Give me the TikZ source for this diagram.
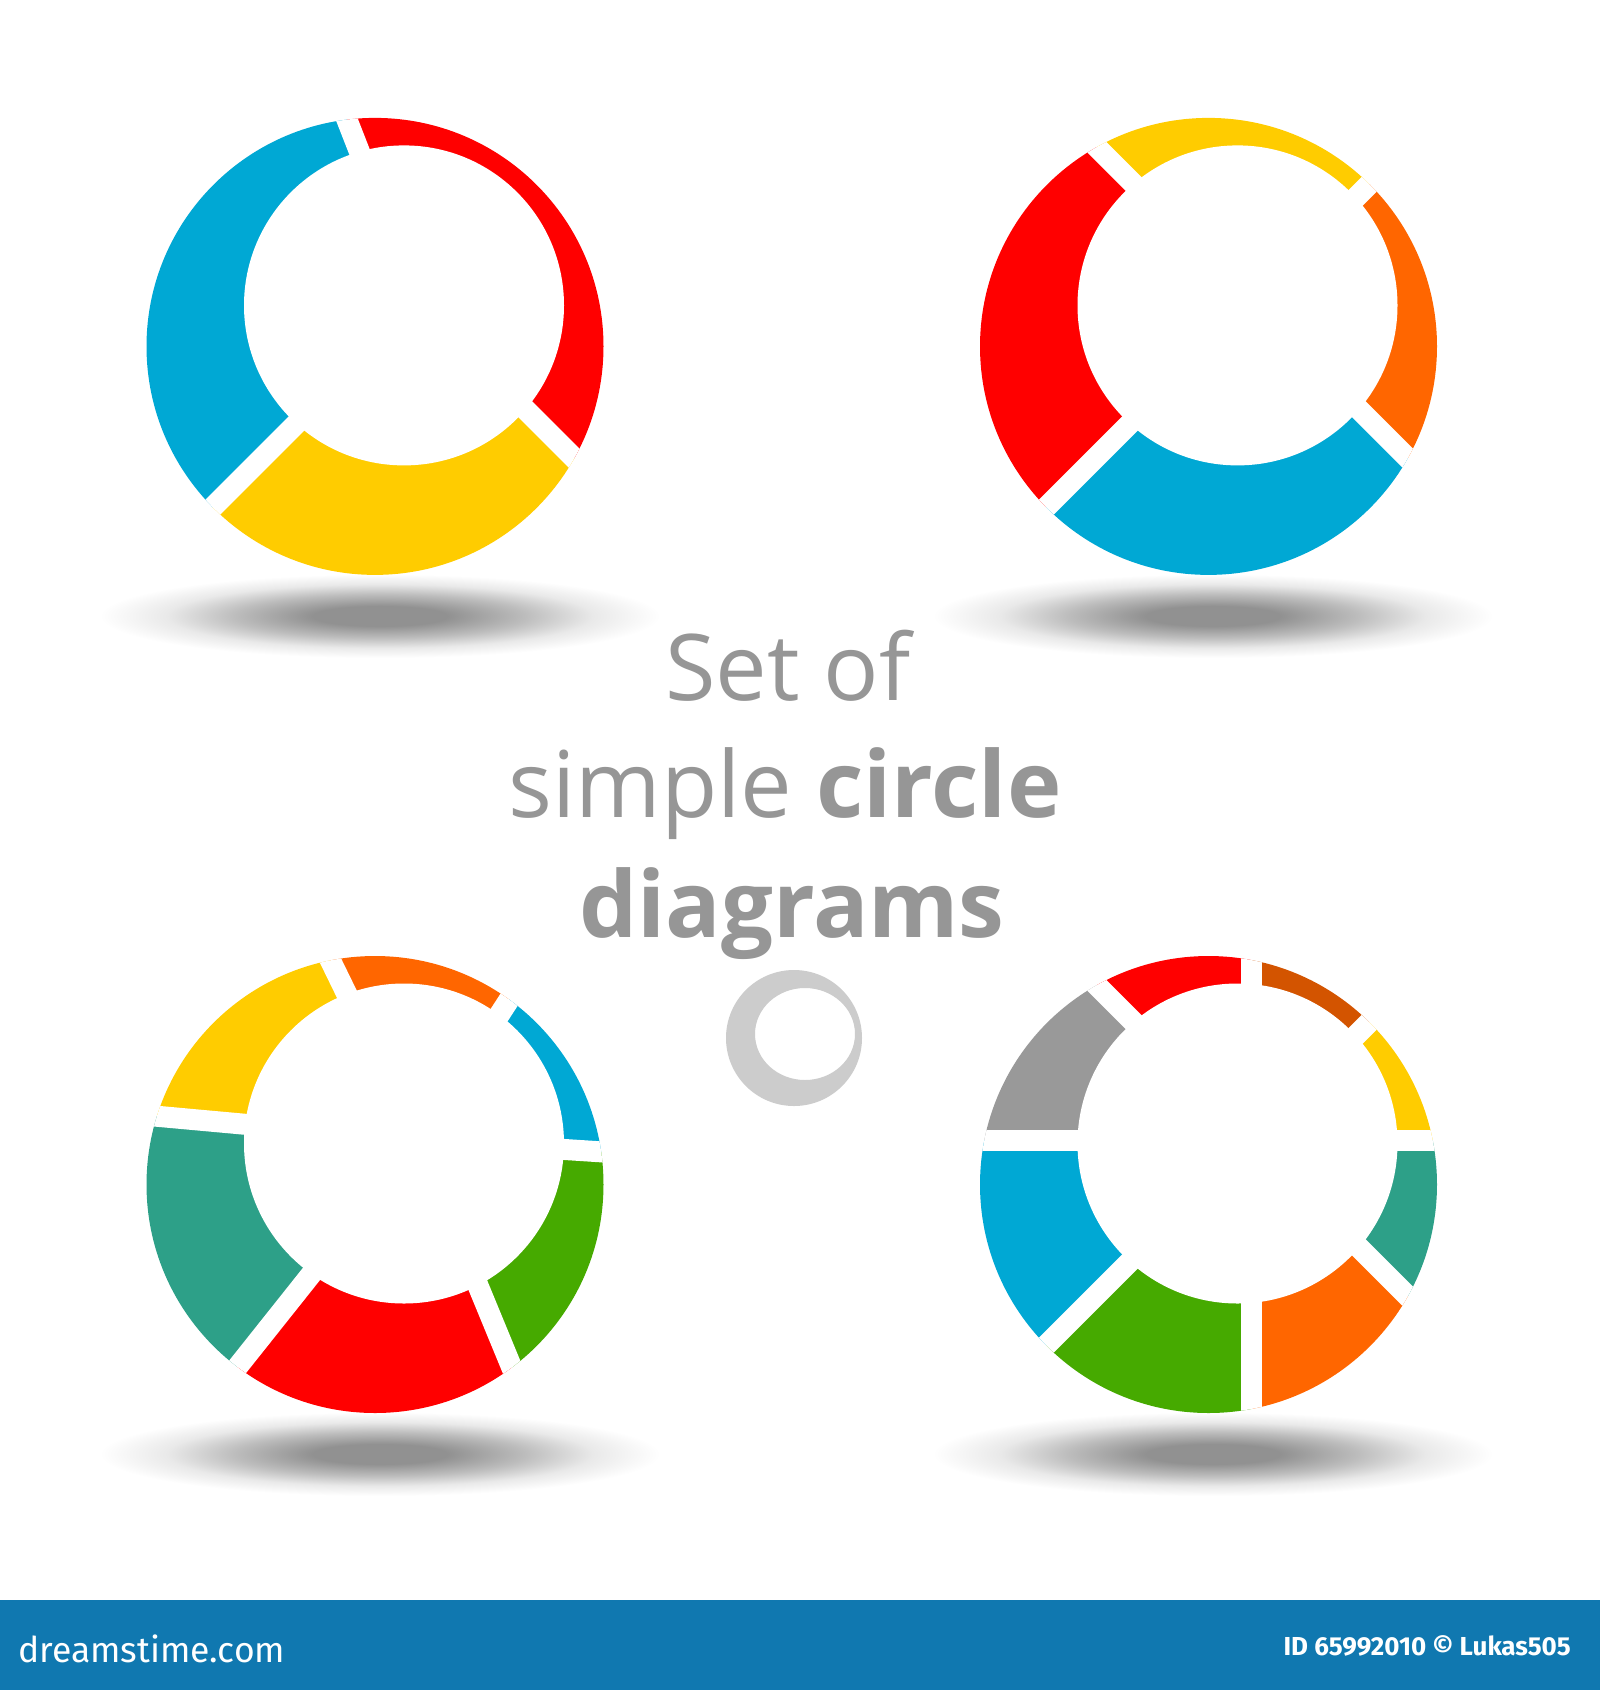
\documentclass[tikz,border=0pt]{standalone}
\usepackage{fontspec}
\usepackage{graphicx}
\newfontfamily\titlefont{Open Sans}
\newfontfamily\barfont{Fira Sans}
\definecolor{cblue}{RGB}{0,168,212}
\definecolor{cred}{RGB}{255,0,0}
\definecolor{cyellow}{RGB}{255,204,0}
\definecolor{corange}{RGB}{255,102,0}
\definecolor{cteal}{RGB}{45,160,136}
\definecolor{cgreen}{RGB}{70,170,0}
\definecolor{cgrey}{RGB}{153,153,153}
\definecolor{cbrown}{RGB}{211,84,0}
\definecolor{cring}{RGB}{204,204,204}
\definecolor{ctext}{RGB}{150,150,150}
\definecolor{cbar}{RGB}{16,120,176}
\definecolor{shadowc}{RGB}{145,145,145}
\pgfdeclareradialshading{shadowfade}{\pgfpointorigin}{color(0bp)=(shadowc); color(6bp)=(shadowc); color(13bp)=(shadowc!60!white); color(19bp)=(shadowc!20!white); color(25bp)=(white); color(50bp)=(white)}
\tikzset{
  gapline/.style={draw=white, line width=21pt},
  shadowblob/.style={shading=shadowfade},
  titletext/.style={text=ctext, inner sep=0pt, anchor=base, font=\titlefont\fontsize{92}{110}\selectfont},
  bartext/.style={text=white, inner sep=0pt, font=\barfont},
}
\begin{document}
\begin{tikzpicture}[x=1pt,y=-1pt]
\path[use as bounding box, fill=white] (0,0) rectangle (1600,1690);
% shadows
\shade[shadowblob] (380,616) ellipse [x radius=280, y radius=42];
\shade[shadowblob] (1213,616) ellipse [x radius=280, y radius=42];
\shade[shadowblob] (380,1454) ellipse [x radius=280, y radius=42];
\shade[shadowblob] (1213,1454) ellipse [x radius=280, y radius=42];
% chart 1 (top left)
\begin{scope}[shift={(375,346.4)}]
  \clip (0,0) circle [radius=228.5];
  \fill[cred] (43,-44.5) -- +(-111.3:600) -- +(-33:600) -- +(45:600) -- cycle;
  \fill[cyellow] (43,-44.5) -- +(45:600) -- +(90:600) -- +(135:600) -- cycle;
  \fill[cblue] (43,-44.5) -- +(135:600) -- +(192:600) -- +(248.7:600) -- cycle;
  \fill[white] (29,-41) circle [radius=160];
  \foreach \a in {-111.3,45,135} \draw[gapline] (43,-44.5) -- +(\a:600);
\end{scope}
% chart 2 (top right)
\begin{scope}[shift={(1208.5,346.4)}]
  \clip (0,0) circle [radius=228.5];
  \fill[cyellow] (43,-44.5) -- +(-135:600) -- +(-90:600) -- +(-45:600) -- cycle;
  \fill[corange] (43,-44.5) -- +(-45:600) -- +(0:600) -- +(45:600) -- cycle;
  \fill[cblue] (43,-44.5) -- +(45:600) -- +(90:600) -- +(135:600) -- cycle;
  \fill[cred] (43,-44.5) -- +(135:600) -- +(180:600) -- +(225:600) -- cycle;
  \fill[white] (29,-41) circle [radius=160];
  \foreach \a in {-135,-45,45,135} \draw[gapline] (43,-44.5) -- +(\a:600);
\end{scope}
% chart 3 (bottom left)
\begin{scope}[shift={(375,1184.5)}]
  \clip (0,0) circle [radius=228.5];
  \fill[cyellow] (43,-44.5) -- +(185.2:600) -- +(214.6:600) -- +(244:600) -- cycle;
  \fill[corange] (43,-44.5) -- +(-116:600) -- +(-86.5:600) -- +(-57:600) -- cycle;
  \fill[cblue] (43,-44.5) -- +(-57:600) -- +(-26.6:600) -- +(3.7:600) -- cycle;
  \fill[cgreen] (43,-44.5) -- +(3.7:600) -- +(35.6:600) -- +(67.6:600) -- cycle;
  \fill[cred] (43,-44.5) -- +(67.6:600) -- +(98:600) -- +(128.5:600) -- cycle;
  \fill[cteal] (43,-44.5) -- +(128.5:600) -- +(156.8:600) -- +(185.2:600) -- cycle;
  \fill[white] (29,-41) circle [radius=160];
  \foreach \a in {-116,-57,3.7,67.6,128.5,185.2} \draw[gapline] (43,-44.5) -- +(\a:600);
\end{scope}
% chart 4 (bottom right)
\begin{scope}[shift={(1208.5,1184.5)}]
  \clip (0,0) circle [radius=228.5];
  \fill[cred] (43,-44.5) -- +(-135:600) -- +(-112.5:600) -- +(-90:600) -- cycle;
  \fill[cbrown] (43,-44.5) -- +(-90:600) -- +(-67.5:600) -- +(-45:600) -- cycle;
  \fill[cyellow] (43,-44.5) -- +(-45:600) -- +(-22.5:600) -- +(0:600) -- cycle;
  \fill[cteal] (43,-44.5) -- +(0:600) -- +(22.5:600) -- +(45:600) -- cycle;
  \fill[corange] (43,-44.5) -- +(45:600) -- +(67.5:600) -- +(90:600) -- cycle;
  \fill[cgreen] (43,-44.5) -- +(90:600) -- +(112.5:600) -- +(135:600) -- cycle;
  \fill[cblue] (43,-44.5) -- +(135:600) -- +(157.5:600) -- +(180:600) -- cycle;
  \fill[cgrey] (43,-44.5) -- +(180:600) -- +(202.5:600) -- +(225:600) -- cycle;
  \fill[white] (29,-41) circle [radius=160];
  \foreach \a in {-135,-90,-45,0,45,90,135,180} \draw[gapline] (43,-44.5) -- +(\a:600);
\end{scope}
% title
\node[titletext] (t1) at (788,700) {Set of};
\node[titletext] (t2) at (785,817) {simple \textbf{circle}};
\node[titletext, font=\titlefont\bfseries\fontsize{92}{110}\selectfont] (t3) at (792,937) {diagrams};
% small ring
\fill[cring, even odd rule] (794,1038) circle [radius=68] (805,1034) ellipse [x radius=50, y radius=46];
% bottom bar
\fill[cbar] (0,1600) rectangle (1600,1690);
\node[bartext, anchor=base west, font=\barfont\fontsize{35.5}{40}\selectfont] (logo) at (18,1662) {dreamstime.com};
\node[bartext, anchor=base east, font=\barfont\bfseries\fontsize{26}{30}\selectfont] (credit) at (1571,1655) {ID 65992010 © Lukas505};
\end{tikzpicture}
\end{document}
